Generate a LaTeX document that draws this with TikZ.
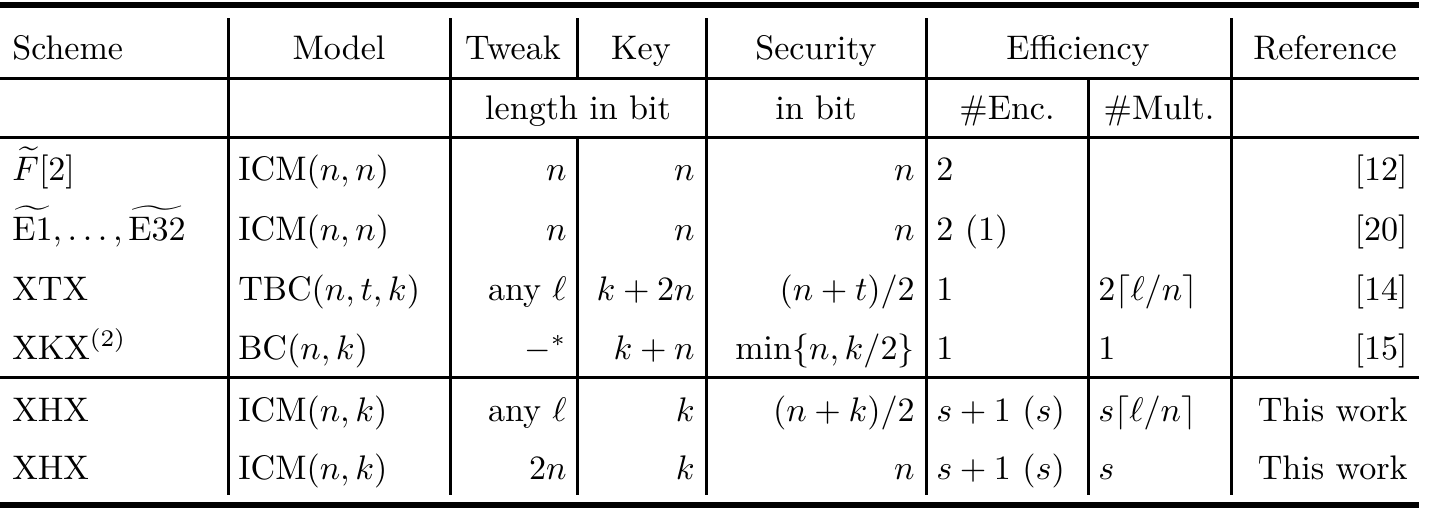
\documentclass[tikz,border=0pt]{standalone}
\usepackage{amsmath}
\usepackage{graphicx}
\newcommand{\Tx}[1]{\scalebox{1.94}{\normalsize #1}}
\begin{document}
\begin{tikzpicture}[x=0.02cm,y=-0.02cm,
  cell/.style={inner sep=0pt},
  L/.style={cell,anchor=base west},
  R/.style={cell,anchor=base east},
  C/.style={cell,anchor=base},
  thin/.style={line width=0.06cm},
  thick/.style={line width=0.12cm}]
\useasboundingbox (0,0) rectangle (1429,511);
% rules
\draw[thick] (0,5) -- (1419,5);
\draw[thick] (0,505) -- (1419,505);
\foreach \y in {78,137,377} \draw[thin] (0,\y) -- (1419,\y);
\foreach \x in {228,450,706,926,1231} \draw[thin] (\x,18) -- (\x,495);
\draw[thin] (577,18) -- (577,78);
\draw[thin] (577,137) -- (577,495);
\draw[thin] (1088,78) -- (1088,495);
% header
\def\hb{59}
\node[L] (h1) at (12,\hb) {\Tx{Scheme}};
\node[C] (h2) at (339,\hb) {\Tx{Model}};
\node[C] (h3) at (513,\hb) {\Tx{Tweak}};
\node[C] (h4) at (641,\hb) {\Tx{Key}};
\node[C] (h5) at (816,\hb) {\Tx{Security}};
\node[C] (h6) at (1078,\hb) {\Tx{Efficiency}};
\node[C] (h7) at (1325,\hb) {\Tx{Reference}};
\node[C] (s1) at (578,119) {\Tx{length in bit}};
\node[C] (s2) at (816,119) {\Tx{in bit}};
\node[C] (s3) at (1007,119) {\Tx{\#Enc.}};
\node[C] (s4) at (1159,119) {\Tx{\#Mult.}};
% rows
\foreach \n/\yb/\a/\b/\c/\d/\e/\f/\g/\h in {
 r1/180/{$\widetilde{F}[2]$}/{ICM$(n,n)$}/{$n$}/{$n$}/{$n$}/{2}/{}/{[12]},
 r2/240/{$\widetilde{\mathrm{E1}},\ldots,\widetilde{\mathrm{E32}}$}/{ICM$(n,n)$}/{$n$}/{$n$}/{$n$}/{2 (1)}/{}/{[20]},
 r3/300/{XTX}/{TBC$(n,t,k)$}/{any $\ell$}/{$k+2n$}/{$(n+t)/2$}/{1}/{$2\lceil\ell/n\rceil$}/{[14]},
 r4/359/{XKX$^{(2)}$}/{BC$(n,k)$}/{$-^{*}$}/{$k+n$}/{$\min\{n,k/2\}$}/{1}/{1}/{[15]},
 r5/421/{XHX}/{ICM$(n,k)$}/{any $\ell$}/{$k$}/{$(n+k)/2$}/{$s+1$ $(s)$}/{$s\lceil\ell/n\rceil$}/{This work},
 r6/479/{XHX}/{ICM$(n,k)$}/{$2n$}/{$k$}/{$n$}/{$s+1$ $(s)$}/{$s$}/{This work}} {
  \node[L] (\n a) at (12,\yb) {\Tx{\a}};
  \node[L] (\n b) at (238,\yb) {\Tx{\b}};
  \node[R] (\n c) at (567,\yb) {\Tx{\c}};
  \node[R] (\n d) at (695,\yb) {\Tx{\d}};
  \node[R] (\n e) at (915,\yb) {\Tx{\e}};
  \node[L] (\n f) at (936,\yb) {\Tx{\f}};
  \node[L] (\n g) at (1098,\yb) {\Tx{\g}};
  \node[R] (\n h) at (1408,\yb) {\Tx{\h}};
}
\end{tikzpicture}
\end{document}
